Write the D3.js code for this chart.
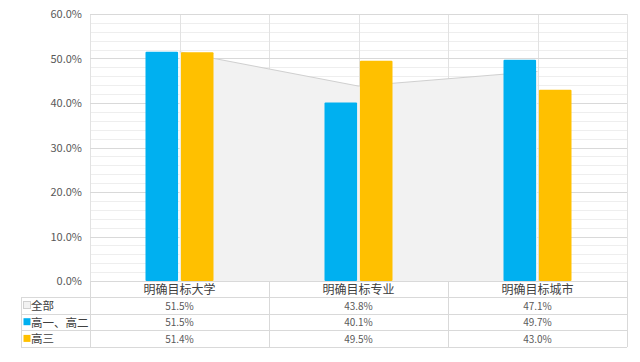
<!DOCTYPE html>
<html>
<head>
<meta charset="utf-8">
<script src="https://d3js.org/d3.v7.min.js"></script>
<style>
  body { margin: 0; background: #fff; }
  text { font-family: "Noto Sans CJK SC", "Noto Sans", sans-serif; }
</style>
</head>
<body>
<svg id="chart" width="640" height="362"></svg>
<script>
// data
var categories = ["明确目标大学", "明确目标专业", "明确目标城市"];
var seriesNames = ["全部", "高一、高二", "高三"];
var allValues = [51.5, 43.8, 47.1];
var g12Values = [51.5, 40.1, 49.7];
var g3Values = [51.4, 49.5, 43.0];
var yTicks = [0, 10, 20, 30, 40, 50, 60];

var colors = { "全部": "#f2f2f2", "高一、高二": "#00b0f0", "高三": "#ffc000" };

var svg = d3.select("#chart");
// note: "top" is taken by window.top, so use other names
var plotLeft = 90, plotRight = 627, plotTop = 14, plotBottom = 281;

var x = d3.scaleBand().domain(categories).range([plotLeft, plotRight]);
var y = d3.scaleLinear().domain([0, 60]).range([plotBottom, plotTop]);

// minor horizontal grid
svg.append("g").selectAll("line")
  .data(d3.range(0, 61, 2).filter(function(v) { return v % 10 != 0; }))
  .join("line")
  .attr("x1", plotLeft).attr("x2", plotRight)
  .attr("y1", function(d) { return Math.round(y(d)) + 0.5; })
  .attr("y2", function(d) { return Math.round(y(d)) + 0.5; })
  .attr("stroke", "#eeeeee");

// vertical grid: boundaries and category centres
var vlines = [];
categories.forEach(function(c) {
  vlines.push(x(c));
  vlines.push(x(c) + x.bandwidth() / 2);
});
vlines.push(plotRight);
svg.append("g").selectAll("line")
  .data(vlines)
  .join("line")
  .attr("x1", function(d) { return Math.round(d) + 0.5; })
  .attr("x2", function(d) { return Math.round(d) + 0.5; })
  .attr("y1", plotTop).attr("y2", plotBottom)
  .attr("stroke", "#e2e2e2");

// major horizontal grid
svg.append("g").selectAll("line")
  .data(yTicks)
  .join("line")
  .attr("x1", plotLeft).attr("x2", plotRight)
  .attr("y1", function(d) { return Math.round(y(d)) + 0.5; })
  .attr("y2", function(d) { return Math.round(y(d)) + 0.5; })
  .attr("stroke", "#d9d9d9");

// y axis labels
svg.append("g").selectAll("text")
  .data(yTicks)
  .join("text")
  .attr("x", 82)
  .attr("y", function(d) { return y(d) + 4; })
  .attr("text-anchor", "end")
  .attr("font-size", 11)
  .attr("fill", "#595959")
  .text(function(d) { return d.toFixed(1) + "%"; });

// area for 全部
var cx = function(i) { return x(categories[i]) + x.bandwidth() / 2; };
svg.append("path")
  .datum(allValues)
  .attr("fill", "#f2f2f2")
  .attr("d", d3.area()
    .x(function(d, i) { return cx(i); })
    .y0(y(0))
    .y1(function(d) { return y(d); }));
svg.append("path")
  .datum(allValues)
  .attr("fill", "none")
  .attr("stroke", "#d0d0d0")
  .attr("stroke-width", 1)
  .attr("d", d3.line()
    .x(function(d, i) { return cx(i); })
    .y(function(d) { return y(d); }));

// bars
var barSeries = [
  { name: "高一、高二", values: g12Values },
  { name: "高三", values: g3Values }
];
var x1 = d3.scaleBand()
  .domain(barSeries.map(function(s) { return s.name; }))
  .range([x.bandwidth() / 2 - 34, x.bandwidth() / 2 + 34])
  .paddingInner(0.08);

barSeries.forEach(function(s) {
  svg.append("g").selectAll("rect")
    .data(s.values)
    .join("rect")
    .attr("x", function(d, i) { return x(categories[i]) + x1(s.name); })
    .attr("y", function(d) { return y(d); })
    .attr("width", x1.bandwidth())
    .attr("height", function(d) { return y(0) - y(d); })
    .attr("rx", 1)
    .attr("fill", colors[s.name]);
});

// data table
var rowTop = 297, rowH = 16.7;
var tableLeft = 21;
var tg = svg.append("g");

// horizontal table lines
[rowTop, rowTop + rowH, rowTop + 2 * rowH, rowTop + 3 * rowH].forEach(function(yy) {
  tg.append("line")
    .attr("x1", tableLeft).attr("x2", plotRight)
    .attr("y1", Math.round(yy) + 0.5).attr("y2", Math.round(yy) + 0.5)
    .attr("stroke", "#d9d9d9");
});
// vertical table lines
tg.append("line")
  .attr("x1", tableLeft + 0.5).attr("x2", tableLeft + 0.5)
  .attr("y1", rowTop).attr("y2", rowTop + 3 * rowH)
  .attr("stroke", "#d9d9d9");
[plotLeft].concat(categories.map(function(c) { return x(c) + x.bandwidth(); })).forEach(function(xx) {
  tg.append("line")
    .attr("x1", Math.round(xx) + 0.5).attr("x2", Math.round(xx) + 0.5)
    .attr("y1", plotBottom).attr("y2", rowTop + 3 * rowH)
    .attr("stroke", "#d9d9d9");
});

// category labels
tg.selectAll("text.cat")
  .data(categories)
  .join("text")
  .attr("class", "cat")
  .attr("x", function(d) { return x(d) + x.bandwidth() / 2; })
  .attr("y", 294)
  .attr("text-anchor", "middle")
  .attr("font-size", 12)
  .attr("fill", "#404040")
  .text(function(d) { return d; });

// rows
var rows = [
  { name: "全部", values: allValues },
  { name: "高一、高二", values: g12Values },
  { name: "高三", values: g3Values }
];
rows.forEach(function(r, ri) {
  var ry = rowTop + ri * rowH;
  tg.append("rect")
    .attr("x", 23.5).attr("y", ry + 4.5)
    .attr("width", 7).attr("height", 7)
    .attr("fill", colors[r.name])
    .attr("stroke", r.name == "全部" ? "#d0d0d0" : "none");
  tg.append("text")
    .attr("x", 31)
    .attr("y", ry + 13)
    .attr("font-size", 11.5)
    .attr("fill", "#404040")
    .text(r.name);
  tg.selectAll("text.v" + ri)
    .data(r.values)
    .join("text")
    .attr("x", function(d, i) { return cx(i); })
    .attr("y", ry + 12.5)
    .attr("text-anchor", "middle")
    .attr("font-size", 10)
    .attr("fill", "#595959")
    .text(function(d) { return d.toFixed(1) + "%"; });
});
</script>
</body>
</html>
